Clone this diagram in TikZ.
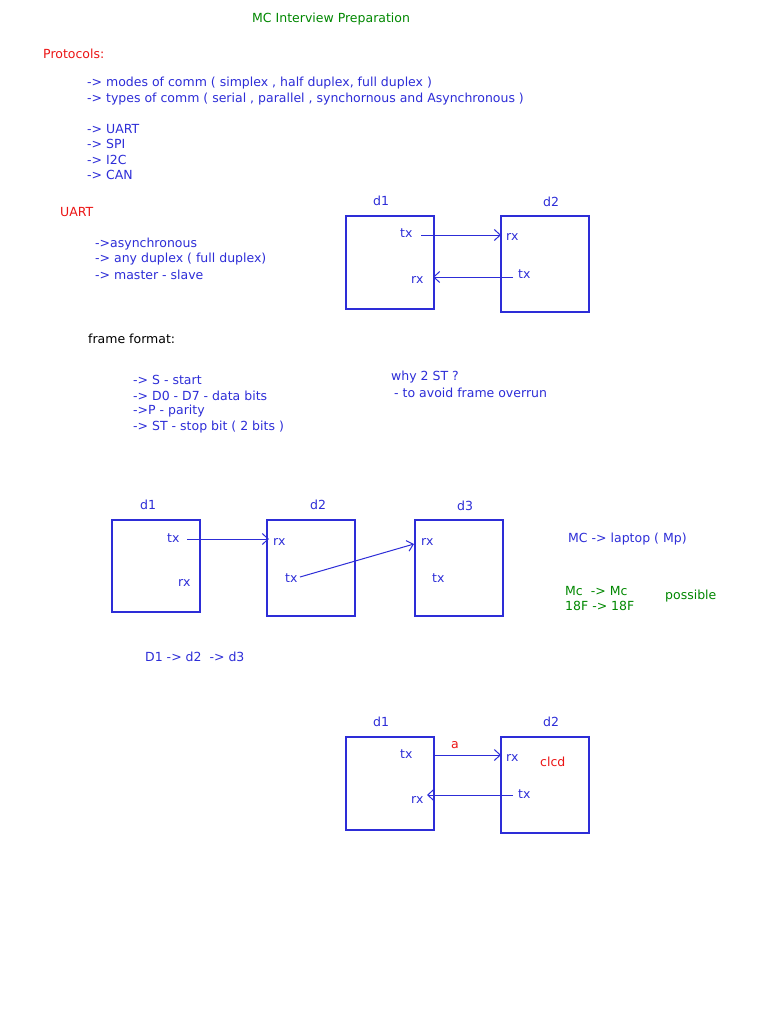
\documentclass[tikz,border=0pt]{standalone}
\usepackage{fontspec}
\setmainfont{DejaVu Sans}
\usetikzlibrary{positioning,arrows.meta}
\definecolor{ink}{RGB}{45,45,215}
\definecolor{inkred}{RGB}{235,20,20}
\definecolor{inkgreen}{RGB}{0,135,0}
\tikzset{
  txt/.style={anchor=west, inner sep=0pt, text=ink, yshift=-1pt, font=\fontsize{12.5}{14}\selectfont},
  red txt/.style={txt, text=inkred},
  green txt/.style={txt, text=inkgreen},
  dev/.style={draw=ink, line width=1.2pt},
  sig/.style={draw=ink, line width=1pt, -{Straight Barb[length=6pt, width=11pt]}}
}
\begin{document}
\begin{tikzpicture}[x=1pt, y=-1pt]
\useasboundingbox (0,0) rectangle (768,1024);

% heading and protocol list
\node[green txt] (title) at (252,18) {MC Interview Preparation};
\node[red txt] (prot) at (43,53) {Protocols:};
\node[txt] (modes) at (87,82) {-> modes of comm ( simplex , half duplex, full duplex )};
\node[txt] (types) at (87,98) {-> types of comm ( serial , parallel , synchornous and Asynchronous )};
\node[txt] (p1) at (87,128) {-> UART};
\node[txt] (p2) at (87,143) {-> SPI};
\node[txt] (p3) at (87,159) {-> I2C};
\node[txt] (p4) at (87,174) {-> CAN};

% UART
\node[red txt] (uart) at (60,211) {UART};
\node[txt] (u1) at (95,243) {->asynchronous};
\node[txt] (u2) at (95,258) {-> any duplex ( full duplex)};
\node[txt] (u3) at (95,274) {-> master - slave};

\draw[dev] (346,216) rectangle (434,309);
\draw[dev] (501,216) rectangle (589,312);
\node[txt] (a1) at (373,200) {d1};
\node[txt] (a2) at (543,201) {d2};
\node[txt] (a1tx) at (400,232) {tx};
\node[txt] (a1rx) at (411,279) {rx};
\node[txt] (a2rx) at (506,236) {rx};
\node[txt] (a2tx) at (518,273) {tx};
\coordinate (aa) at (421,235); \coordinate (ab) at (501,235);
\coordinate (ac) at (513,277); \coordinate (ad) at (433,277);
\draw[sig] (aa) -- (ab);
\draw[sig] (ac) -- (ad);

% frame format
\node[txt, text=black] (ff) at (88,338) {frame format:};
\node[txt] (f1) at (133,379) {-> S - start};
\node[txt] (f2) at (133,395) {-> D0 - D7 - data bits};
\node[txt] (f3) at (133,410) {->P - parity};
\node[txt] (f4) at (133,426) {-> ST - stop bit ( 2 bits )};
\node[txt] (why) at (391,376) {why 2 ST ?};
\node[txt] (avoid) at (394,392) {- to avoid frame overrun};

% chain
\draw[dev] (112,520) rectangle (200,612);
\draw[dev] (267,520) rectangle (355,616);
\draw[dev] (415,520) rectangle (503,616);
\node[txt] (b1) at (140,504) {d1};
\node[txt] (b2) at (310,504) {d2};
\node[txt] (b3) at (457,505) {d3};
\node[txt] (b1tx) at (167,537) {tx};
\node[txt] (b1rx) at (178,582) {rx};
\node[txt] (b2rx) at (273,541) {rx};
\node[txt] (b2tx) at (285,577) {tx};
\node[txt] (b3rx) at (421,541) {rx};
\node[txt] (b3tx) at (432,577) {tx};
\coordinate (ba) at (187,539); \coordinate (bb) at (269,539);
\coordinate (bc) at (300,577); \coordinate (bd) at (414,544);
\draw[sig] (ba) -- (bb);
\draw[sig] (bc) -- (bd);
\node[txt] (lap) at (568,538) {MC -> laptop ( Mp)};
\node[green txt] (mc) at (565,590) {Mc \ -> Mc};
\node[green txt] (f18) at (565,605) {18F -> 18F};
\node[green txt] (poss) at (665,595) {possible};
\node[txt] (chain) at (145,656) {D1 -> d2 \ -> d3};

% clcd
\draw[dev] (346,737) rectangle (434,830);
\draw[dev] (501,737) rectangle (589,833);
\node[txt] (c1) at (373,721) {d1};
\node[txt] (c2) at (543,721) {d2};
\node[txt] (c1tx) at (400,753) {tx};
\node[txt] (c1rx) at (411,799) {rx};
\node[txt] (c2rx) at (506,757) {rx};
\node[txt] (c2tx) at (518,793) {tx};
\node[red txt] (sa) at (451,744) {a};
\node[red txt] (lcd) at (540,761) {clcd};
\coordinate (ca) at (433,755); \coordinate (cb) at (501,755);
\coordinate (cc) at (513,795); \coordinate (cd) at (427,795);
\draw[sig] (ca) -- (cb);
\draw[sig] (cc) -- (cd);
\end{tikzpicture}
\end{document}
